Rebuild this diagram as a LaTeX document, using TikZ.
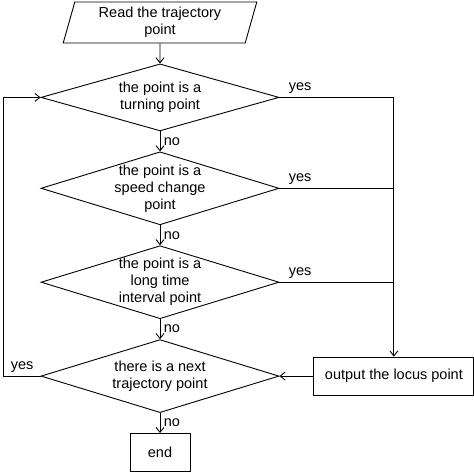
\documentclass[tikz,border=0pt]{standalone}
\usepackage{fontspec}
\setmainfont{Liberation Sans}
\usetikzlibrary{arrows.meta,shapes.geometric,positioning}

\begin{document}
\begin{tikzpicture}[x=1pt,y=-1pt,>={Straight Barb[length=5pt,width=8pt]},auto,
                    node distance=20pt,line width=0.9pt,
                    font=\fontsize{14.5}{17}\selectfont]
  \tikzstyle{decision}=[diamond, draw, minimum width=238pt, minimum height=73pt,
                        aspect=3.4, inner sep=-8pt, align=center]
  \tikzstyle{io}=[trapezium, trapezium left angle=76, trapezium right angle=104,
                  trapezium stretches=true, draw, minimum width=194pt,
                  minimum height=41pt, inner sep=2pt, align=center]
  \tikzstyle{process}=[rectangle, draw, minimum height=38pt, align=center]
  \useasboundingbox (0,0) rectangle (474,474);
  \node[io] (read) at (160,22.5) {Read the trajectory\\point};
  \node[decision, minimum height=67pt] (turn) [below=of read] {the point is a\\turning point};
  \node[decision] (speed) [below=of turn] {the point is a\\speed change\\point};
  \node[decision] (long) [below=of speed] {the point is a\\long time\\interval point};
  \node[decision] (next) [below=of long] {there is a next\\trajectory point};
  \node[process, minimum width=60pt] (end) [below=of next] {end};
  \node[process, minimum width=160pt] (output) [right=34pt of next] {output the locus point};
  \path[->] (read) edge (turn)
            (turn) edge node {no} (speed)
            (speed) edge node {no} (long)
            (long) edge node {no} (next)
            (next) edge node {no} (end)
            (output) edge (next);
  \draw[->] (turn.east) -- node[pos=0.18] {yes} (turn.east -| output.north) -- (output.north);
  \draw (speed.east) -- node[pos=0.18] {yes} (speed.east -| output.north);
  \draw (long.east) -- node[pos=0.18] {yes} (long.east -| output.north);
  \draw[->] (next.west) -- node[above] {yes} ([xshift=-37pt]next.west) |- (turn.west);
\end{tikzpicture}
\end{document}
